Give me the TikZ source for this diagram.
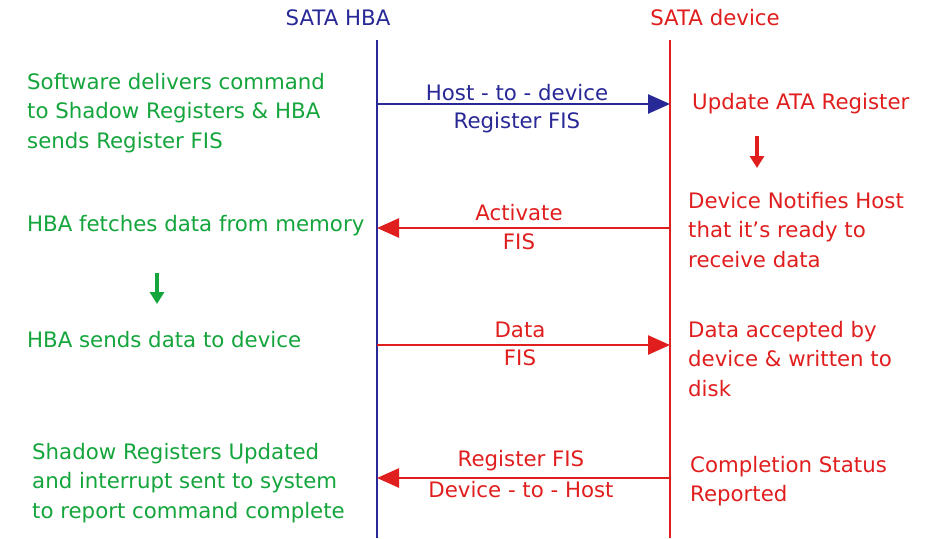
\documentclass[tikz,border=0pt]{standalone}
\usepackage{fontspec}
\setmainfont{DejaVu Sans}
\usetikzlibrary{arrows.meta}
\definecolor{cb}{RGB}{40,40,150}
\definecolor{cr}{RGB}{225,30,30}
\definecolor{cg}{RGB}{20,165,60}
\begin{document}
\begin{tikzpicture}[x=1pt,y=-1pt,
  txt/.style={font=\fontsize{21.3}{29.5}\selectfont,inner sep=0pt},
  lt/.style={txt,anchor=west,align=left},
  msg/.style={line width=2.6pt,-{Triangle[length=22pt,width=19pt]}},
  down/.style={line width=3.5pt,-{Triangle[length=12pt,width=14pt]}}]
\useasboundingbox (0,0) rectangle (928,538);
\fill[white] (0,0) rectangle (928,538);
\node[txt,text=cb] (th) at (338,18) {SATA HBA};
\node[txt,text=cr] (td) at (715,18) {SATA device};
\coordinate (h0) at (377,40); \coordinate (h1) at (377,538);
\coordinate (d0) at (670,40); \coordinate (d1) at (670,538);
\draw[cb,line width=2.4pt] (h0) -- (h1);
\draw[cr,line width=2.4pt] (d0) -- (d1);
% messages
\coordinate (a1) at (377,104); \coordinate (b1) at (670,104);
\draw[msg,cb] (a1) -- (b1);
\node[txt,text=cb] (m1a) at (517,93) {Host - to - device};
\node[txt,text=cb] (m1b) at (517,123) {Register FIS};
\coordinate (a2) at (670,228); \coordinate (b2) at (377,228);
\draw[msg,cr] (a2) -- (b2);
\node[txt,text=cr] (m2a) at (519,213) {Activate};
\node[txt,text=cr] (m2b) at (519,242) {FIS};
\coordinate (a3) at (377,345); \coordinate (b3) at (670,345);
\draw[msg,cr] (a3) -- (b3);
\node[txt,text=cr] (m3a) at (520,330) {Data};
\node[txt,text=cr] (m3b) at (520,358) {FIS};
\coordinate (a4) at (670,478); \coordinate (b4) at (377,478);
\draw[msg,cr] (a4) -- (b4);
\node[txt,text=cr] (m4a) at (521,461) {Register FIS};
\node[txt,text=cr] (m4b) at (521,490) {Device - to - Host};
% left texts
\node[lt,text=cg] (l1) at (27,113) {Software delivers command\\to Shadow Registers \& HBA\\sends Register FIS};
\node[lt,text=cg] (l2) at (27,226) {HBA fetches data from memory};
\coordinate (g0) at (157,273); \coordinate (g1) at (157,304);
\draw[down,cg] (g0) -- (g1);
\node[lt,text=cg] (l3) at (27,340) {HBA sends data to device};
\node[lt,text=cg] (l4) at (32,483) {Shadow Registers Updated\\and interrupt sent to system\\to report command complete};
% right texts
\node[lt,text=cr] (r1) at (692,104) {Update ATA Register};
\coordinate (r0) at (757,136); \coordinate (rr) at (757,168);
\draw[down,cr] (r0) -- (rr);
\node[lt,text=cr] (r2) at (688,230) {Device Notifies Host\\that it’s ready to\\receive data};
\node[lt,text=cr] (r3) at (688,359) {Data accepted by\\device \& written to\\disk};
\node[lt,text=cr] (r4) at (690,481) {Completion Status\\Reported};
\end{tikzpicture}
\end{document}
